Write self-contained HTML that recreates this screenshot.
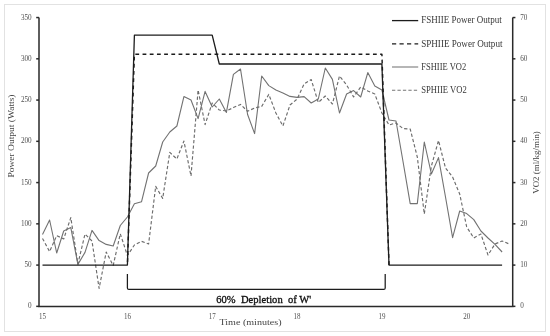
<!DOCTYPE html>
<html><head><meta charset="utf-8"><title>Chart</title>
<style>
html,body{margin:0;padding:0;background:#fff;}
body{width:550px;height:336px;overflow:hidden;}
svg{display:block;font-family:"Liberation Serif",serif;}
</style></head><body>
<svg width="550" height="336" viewBox="0 0 550 336">
<rect x="0" y="0" width="550" height="336" fill="#fff"/>
<rect x="4.5" y="4.5" width="541" height="327" fill="#fff" stroke="#e2e2e2" stroke-width="1"/>

<polyline fill="none" stroke="#727272" stroke-width="1.1" stroke-linejoin="round" points="42.5,234.4 49.6,220.0 56.7,253.0 63.7,231.0 70.8,227.6 77.9,264.4 85.0,252.4 92.0,230.4 99.1,240.6 106.2,244.4 113.2,246.0 120.3,225.5 127.4,217.0 134.4,203.8 141.5,201.8 148.6,173.0 155.7,166.0 162.7,142.0 169.8,132.0 176.9,126.0 183.9,96.6 191.0,100.0 198.1,118.6 205.1,91.4 212.2,107.0 219.3,99.0 226.4,112.4 233.4,74.4 240.5,69.0 247.6,114.5 254.6,133.6 261.7,76.0 268.8,85.6 275.9,90.0 282.9,93.0 290.0,96.4 297.1,97.4 304.1,96.6 311.2,103.0 318.3,99.0 325.3,68.0 332.4,79.4 339.5,113.0 346.6,94.0 353.6,90.6 360.7,97.0 367.8,72.6 374.8,86.0 381.9,90.0 389.0,120.0 396.0,121.0 403.1,162.0 410.2,203.6 417.3,203.6 424.3,142.0 431.4,174.0 438.5,157.6 445.5,197.0 452.6,237.6 459.7,211.0 466.7,213.6 473.8,219.6 480.9,231.0 488.0,238.0 495.0,244.4 502.1,252.0"/>
<polyline fill="none" stroke="#6c6c6c" stroke-width="1.15" stroke-dasharray="3.3 2.15" stroke-linejoin="round" points="42.5,238.4 49.6,251.6 56.7,235.6 63.7,239.0 70.8,217.6 77.9,264.0 85.0,234.0 92.0,241.0 99.1,288.5 106.2,252.0 113.2,265.5 120.3,233.8 127.4,255.5 134.4,245.0 141.5,241.3 148.6,244.0 155.7,186.4 162.7,198.4 169.8,152.4 176.9,159.0 183.9,141.0 191.0,176.0 198.1,90.0 205.1,124.6 212.2,103.0 219.3,110.0 226.4,111.0 233.4,107.6 240.5,104.4 247.6,111.3 254.6,108.0 261.7,106.4 268.8,94.4 275.9,113.0 282.9,126.0 290.0,105.0 297.1,99.0 304.1,84.0 311.2,79.5 318.3,102.5 325.3,96.0 332.4,104.0 339.5,76.0 346.6,85.0 353.6,97.0 360.7,87.0 367.8,91.0 374.8,94.0 381.9,113.0 389.0,125.0 396.0,123.0 403.1,128.6 410.2,129.0 417.3,157.0 424.3,214.0 431.4,166.0 438.5,140.5 445.5,168.0 452.6,177.0 459.7,194.0 466.7,227.0 473.8,238.0 480.9,234.0 488.0,255.0 495.0,244.0 502.1,241.0 509.2,244.0"/>
<polyline fill="none" stroke="#1c1c1c" stroke-width="1.45" stroke-dasharray="3.8 3.4" stroke-dashoffset="4.04" stroke-linejoin="round" points="127.4,265.1 134.4,54.2 141.5,54.2 148.6,54.2 155.7,54.2 162.7,54.2 169.8,54.2 176.9,54.2 183.9,54.2 191.0,54.2 198.1,54.2 205.1,54.2 212.2,54.2 219.3,54.2 226.4,54.2 233.4,54.2 240.5,54.2 247.6,54.2 254.6,54.2 261.7,54.2 268.8,54.2 275.9,54.2 282.9,54.2 290.0,54.2 297.1,54.2 304.1,54.2 311.2,54.2 318.3,54.2 325.3,54.2 332.4,54.2 339.5,54.2 346.6,54.2 353.6,54.2 360.7,54.2 367.8,54.2 374.8,54.2 381.9,54.2 389.0,265.1"/>
<polyline fill="none" stroke="#1c1c1c" stroke-width="1.3" stroke-linejoin="round" points="42.5,265.1 49.6,265.1 56.7,265.1 63.7,265.1 70.8,265.1 77.9,265.1 85.0,265.1 92.0,265.1 99.1,265.1 106.2,265.1 113.2,265.1 120.3,265.1 127.4,265.1 134.4,35.2 141.5,35.2 148.6,35.2 155.7,35.2 162.7,35.2 169.8,35.2 176.9,35.2 183.9,35.2 191.0,35.2 198.1,35.2 205.1,35.2 212.2,35.2 219.3,64.0 226.4,64.0 233.4,64.0 240.5,64.0 247.6,64.0 254.6,64.0 261.7,64.0 268.8,64.0 275.9,64.0 282.9,64.0 290.0,64.0 297.1,64.0 304.1,64.0 311.2,64.0 318.3,64.0 325.3,64.0 332.4,64.0 339.5,64.0 346.6,64.0 353.6,64.0 360.7,64.0 367.8,64.0 374.8,64.0 381.9,64.0 389.0,265.1 396.0,265.1 403.1,265.1 410.2,265.1 417.3,265.1 424.3,265.1 431.4,265.1 438.5,265.1 445.5,265.1 452.6,265.1 459.7,265.1 466.7,265.1 473.8,265.1 480.9,265.1 488.0,265.1 495.0,265.1 502.1,265.1"/>
<g stroke="#2a2a2a" stroke-width="1.5" fill="none">
<path d="M39.0 17.6 V306.4 H512.7 V17.6"/>
<path d="M36.2 306.35 H39.0"/>
<path d="M512.7 306.35 H515.4"/>
<path d="M36.2 265.09 H39.0"/>
<path d="M512.7 265.09 H515.4"/>
<path d="M36.2 223.84 H39.0"/>
<path d="M512.7 223.84 H515.4"/>
<path d="M36.2 182.58 H39.0"/>
<path d="M512.7 182.58 H515.4"/>
<path d="M36.2 141.32 H39.0"/>
<path d="M512.7 141.32 H515.4"/>
<path d="M36.2 100.06 H39.0"/>
<path d="M512.7 100.06 H515.4"/>
<path d="M36.2 58.81 H39.0"/>
<path d="M512.7 58.81 H515.4"/>
<path d="M36.2 17.55 H39.0"/>
<path d="M512.7 17.55 H515.4"/>
</g>
<g fill="#505050" font-size="7.8">
<text x="31.7" y="308.2" text-anchor="end" textLength="3.6" lengthAdjust="spacingAndGlyphs">0</text>
<text x="520.2" y="308.2" textLength="3.6" lengthAdjust="spacingAndGlyphs">0</text>
<text x="31.7" y="267.0" text-anchor="end" textLength="7.2" lengthAdjust="spacingAndGlyphs">50</text>
<text x="520.2" y="267.0" textLength="7.2" lengthAdjust="spacingAndGlyphs">10</text>
<text x="31.7" y="225.7" text-anchor="end" textLength="10.8" lengthAdjust="spacingAndGlyphs">100</text>
<text x="520.2" y="225.7" textLength="7.2" lengthAdjust="spacingAndGlyphs">20</text>
<text x="31.7" y="184.5" text-anchor="end" textLength="10.8" lengthAdjust="spacingAndGlyphs">150</text>
<text x="520.2" y="184.5" textLength="7.2" lengthAdjust="spacingAndGlyphs">30</text>
<text x="31.7" y="143.2" text-anchor="end" textLength="10.8" lengthAdjust="spacingAndGlyphs">200</text>
<text x="520.2" y="143.2" textLength="7.2" lengthAdjust="spacingAndGlyphs">40</text>
<text x="31.7" y="102.0" text-anchor="end" textLength="10.8" lengthAdjust="spacingAndGlyphs">250</text>
<text x="520.2" y="102.0" textLength="7.2" lengthAdjust="spacingAndGlyphs">50</text>
<text x="31.7" y="60.7" text-anchor="end" textLength="10.8" lengthAdjust="spacingAndGlyphs">300</text>
<text x="520.2" y="60.7" textLength="7.2" lengthAdjust="spacingAndGlyphs">60</text>
<text x="31.7" y="19.5" text-anchor="end" textLength="10.8" lengthAdjust="spacingAndGlyphs">350</text>
<text x="520.2" y="19.5" textLength="7.2" lengthAdjust="spacingAndGlyphs">70</text>
<text x="42.5" y="318.9" text-anchor="middle" textLength="7.0" lengthAdjust="spacingAndGlyphs">15</text>
<text x="127.4" y="318.9" text-anchor="middle" textLength="7.0" lengthAdjust="spacingAndGlyphs">16</text>
<text x="212.2" y="318.9" text-anchor="middle" textLength="7.0" lengthAdjust="spacingAndGlyphs">17</text>
<text x="297.1" y="318.9" text-anchor="middle" textLength="7.0" lengthAdjust="spacingAndGlyphs">18</text>
<text x="381.9" y="318.9" text-anchor="middle" textLength="7.0" lengthAdjust="spacingAndGlyphs">19</text>
<text x="466.7" y="318.9" text-anchor="middle" textLength="7.0" lengthAdjust="spacingAndGlyphs">20</text>
</g>
<text x="250.5" y="324.8" font-size="9" fill="#444" text-anchor="middle" textLength="62" lengthAdjust="spacingAndGlyphs">Time (minutes)</text>
<text transform="translate(14.3 136) rotate(-90)" font-size="9" fill="#444" text-anchor="middle" textLength="83" lengthAdjust="spacingAndGlyphs">Power Output (Watts)</text>
<text transform="translate(539.4 162.5) rotate(-90)" font-size="9" fill="#444" text-anchor="middle" textLength="62.6" lengthAdjust="spacingAndGlyphs">VO2 (ml/kg/min)</text>
<path d="M392 20.6 H418.2" stroke="#1c1c1c" stroke-width="1.3"/>
<path d="M392 43.9 H418.2" stroke="#1c1c1c" stroke-width="1.3" stroke-dasharray="4.2 3.3"/>
<path d="M392 67 H418.2" stroke="#7a7a7a" stroke-width="1.1"/>
<path d="M392 90.2 H418.2" stroke="#757575" stroke-width="1.1" stroke-dasharray="3.3 2.15"/>
<g fill="#383838" font-size="9.3">
<text x="421.2" y="23.2" textLength="80.6" lengthAdjust="spacingAndGlyphs">FSHIIE Power Output</text>
<text x="421.2" y="46.5" textLength="81.3" lengthAdjust="spacingAndGlyphs">SPHIIE Power Output</text>
<text x="421.2" y="69.6" textLength="45" lengthAdjust="spacingAndGlyphs">FSHIIE VO2</text>
<text x="421.2" y="92.8" textLength="45.6" lengthAdjust="spacingAndGlyphs">SPHIIE VO2</text>
</g>
<path d="M127.4 274 V287.9 Q127.4 289.4 128.9 289.4 H383.7 Q385.2 289.4 385.2 287.9 V274" fill="none" stroke="#1c1c1c" stroke-width="1.25"/>
<text x="216.3" y="303.1" font-size="11.3" fill="#111" stroke="#111" stroke-width="0.35" textLength="94.8" lengthAdjust="spacingAndGlyphs" xml:space="preserve">60%  Depletion  of W'</text>
</svg></body></html>
